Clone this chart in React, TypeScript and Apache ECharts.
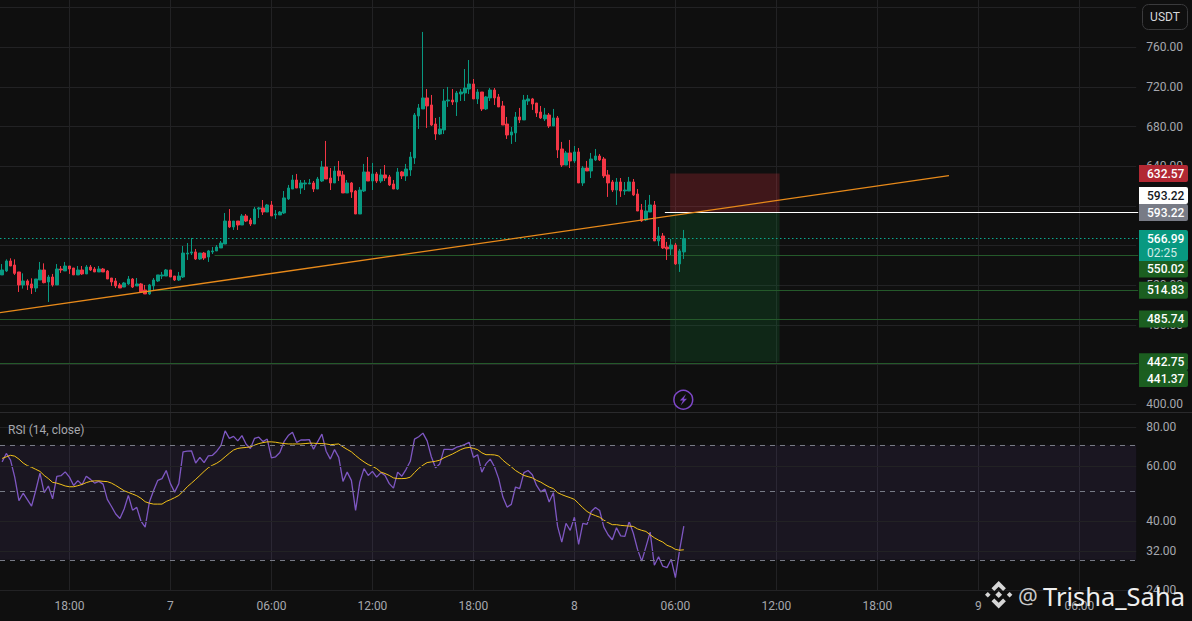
import React, { useEffect, useRef } from "react";
import * as echarts from "echarts";

const FONT = "Roboto, 'Noto Sans', sans-serif";

// 15-minute candles
const opens = [
  530.3,534.3,544.4,540.3,533.3,520.2,524.2,521.2,517.1,525.2,
  535.3,523.2,528.2,520.2,536.3,534.3,539.3,537.3,530.3,535.3,
  531.3,538.3,536.3,533.3,536.3,534.3,527.2,524.2,520.2,518.1,
  521.2,526.2,519.2,521.2,515.1,511.1,519.2,524.2,529.2,529.2,
  535.3,529.2,525.2,528.2,551.4,552.4,553.5,546.4,552.4,548.4,
  553.5,554.5,557.5,561.5,584.7,578.7,584.7,580.7,589.8,585.7,
  581.7,596.8,597.9,593.8,600.9,590.8,590.8,592.8,607.0,617.0,
  626.1,618.0,622.1,622.1,623.1,617.0,625.1,639.2,628.1,623.1,
  635.2,631.2,613.0,623.1,615.0,591.8,615.0,634.2,625.1,632.2,
  625.1,631.2,629.2,622.1,617.0,634.2,630.2,636.2,648.3,690.7,
  697.8,708.9,701.8,682.6,672.5,676.6,705.8,706.8,704.8,712.9,
  713.9,717.9,723.0,707.9,714.9,697.8,708.9,716.9,709.9,700.8,
  682.6,671.5,673.6,689.7,686.7,705.8,707.9,703.8,694.7,687.7,
  691.7,680.6,688.7,657.4,641.2,653.4,645.3,654.4,623.1,638.2,
  635.2,646.3,650.3,647.3,631.2,624.1,616.0,624.1,615.0,615.0,
  624.1,612.0,595.8,585.8,593.8,600.9,564.6,569.6,558.5,556.5,
  560.5,541.4,553.5,
];
const closes = [
  535.3,544.4,539.3,531.9,520.2,524.2,520.2,517.1,526.2,535.3,
  522.5,528.2,520.2,536.3,535.3,539.3,536.3,530.3,535.3,531.3,
  538.3,535.3,533.3,536.3,533.3,526.2,523.2,519.2,517.1,522.2,
  526.2,518.1,521.2,513.1,511.1,520.2,525.2,530.3,530.3,535.3,
  528.2,525.2,529.2,552.4,552.4,553.5,546.4,552.4,547.4,554.5,
  554.5,558.5,562.5,584.7,578.7,584.7,580.7,589.8,584.7,581.7,
  596.8,597.9,593.8,600.9,589.8,591.8,593.8,608.0,618.0,626.1,
  618.0,623.1,623.1,623.1,617.0,627.1,639.2,627.1,623.1,635.2,
  630.2,613.0,623.1,614.0,591.8,616.0,634.2,625.1,632.2,625.1,
  631.2,628.1,621.1,617.0,634.2,630.2,637.2,649.3,691.7,698.8,
  708.9,700.8,681.6,672.5,677.6,705.8,706.8,704.8,713.9,714.9,
  718.9,723.0,707.9,714.9,697.8,709.9,716.9,708.9,699.8,681.6,
  671.5,674.6,689.7,686.7,706.8,707.9,702.8,693.7,688.7,691.7,
  680.6,688.7,656.4,641.2,653.4,645.3,654.4,623.1,638.2,635.2,
  647.3,650.3,646.3,630.2,623.1,616.0,624.1,615.0,616.0,624.1,
  611.0,594.8,584.8,594.8,600.9,564.6,569.6,557.5,556.5,560.5,
  541.4,554.5,566.99,
];
const lows = [
  530.3,533.3,539.3,530.3,513.1,516.5,515.1,511.1,513.1,525.2,
  521.8,503.0,518.5,520.2,532.3,534.3,531.3,530.3,530.3,530.3,
  531.3,534.3,533.3,533.3,533.3,526.2,519.2,517.1,517.1,518.1,
  520.2,517.1,519.2,513.1,511.1,510.1,515.1,523.2,526.2,529.2,
  528.2,524.2,524.2,527.2,545.4,550.4,545.4,545.4,545.4,543.4,
  551.4,554.5,557.5,561.5,577.7,575.7,575.7,580.7,583.7,579.7,
  581.7,587.8,590.8,593.8,589.8,586.8,590.8,591.8,605.9,617.0,
  618.0,612.0,616.0,622.1,614.0,617.0,624.1,627.1,616.0,623.1,
  625.1,613.0,613.0,608.0,591.8,591.8,614.0,625.1,616.0,623.1,
  623.1,625.1,620.1,617.0,616.0,627.1,625.1,630.2,642.3,677.6,
  697.8,678.6,680.6,666.5,671.5,672.5,699.8,701.8,690.7,705.8,
  705.8,712.9,707.9,702.8,695.7,696.8,705.8,701.8,699.8,681.6,
  667.5,662.5,664.5,683.6,686.7,701.8,696.8,689.7,687.7,685.6,
  678.6,680.6,648.3,639.2,641.2,638.2,643.3,623.1,620.1,635.2,
  628.1,645.3,645.3,628.1,609.0,614.0,600.9,609.0,611.0,615.0,
  610.0,594.8,583.7,584.8,593.8,564.6,559.5,556.5,545.4,550.4,
  540.4,533.3,546.4,
];
const highs = [
  541.3,546.0,547.1,546.0,533.3,531.9,525.9,526.9,526.2,543.4,
  542.0,530.3,531.3,541.3,539.3,543.4,539.3,537.3,539.3,539.3,
  540.3,540.3,538.3,539.3,537.3,535.3,527.2,527.2,522.2,523.2,
  529.2,527.2,527.2,522.2,520.2,521.2,527.2,530.3,533.3,536.3,
  535.3,529.2,533.3,559.5,562.5,567.6,556.5,552.4,553.5,555.5,
  558.5,560.5,564.6,592.8,596.8,584.7,584.7,591.8,591.8,587.8,
  598.9,598.9,605.9,601.9,604.9,595.8,594.8,615.0,621.1,631.2,
  632.2,626.1,626.1,627.1,625.1,629.2,645.3,665.5,638.2,640.2,
  645.3,635.2,626.1,624.1,616.0,619.0,642.3,649.3,643.3,634.2,
  637.2,641.2,631.2,626.1,638.2,635.2,642.3,654.4,693.7,702.8,
  775.5,717.9,711.9,688.7,689.7,717.9,720.0,717.9,715.9,717.9,
  738.1,747.2,728.0,717.9,714.9,710.9,718.9,718.9,712.9,705.8,
  689.7,679.6,694.7,698.8,711.9,711.9,708.9,703.8,700.8,698.8,
  693.7,697.8,690.7,664.5,655.4,666.5,660.4,658.4,640.2,645.3,
  653.4,657.4,652.3,649.3,636.2,626.1,628.1,628.1,624.1,629.2,
  627.1,617.0,601.9,605.9,611.0,604.9,578.7,572.6,563.6,566.6,
  562.6,556.5,575.7,
];

const rsiValues = [
  61.9,65.9,62.7,55.3,46.5,49.1,46.8,44.6,50.1,57.0,49.3,51.8,47.1,55.6,55.9,57.5,55.3,52.0,53.9,52.3,
  55.7,54.4,52.9,53.6,52.5,46.9,44.5,42.1,40.7,43.7,48.3,43.3,44.2,39.9,38.2,46.0,50.1,54.0,54.7,58.1,
  52.7,49.5,52.7,66.7,67.0,67.2,61.4,64.0,61.6,64.7,65.0,67.0,69.8,77.9,73.7,74.8,72.3,75.2,70.5,68.4,
  73.7,74.3,71.9,73.3,63.8,64.3,66.4,71.9,75.2,77.1,71.5,72.8,72.8,73.0,68.0,71.9,76.0,67.0,63.2,67.8,
  64.0,53.6,57.4,54.0,43.2,53.3,58.9,56.0,57.7,55.3,57.2,56.0,52.7,51.0,57.4,55.7,58.6,62.2,73.3,74.6,
  76.6,72.3,64.3,59.3,60.9,67.9,67.9,67.8,69.0,69.6,70.5,71.5,64.0,65.3,57.4,61.1,63.2,59.7,54.7,47.7,
  44.3,45.2,51.4,50.8,57.2,58.1,56.3,52.0,49.6,50.6,46.0,49.3,38.4,34.2,39.3,37.3,41.1,33.6,39.3,39.0,
  42.9,44.2,43.2,38.2,36.1,34.8,38.0,35.8,35.7,39.8,36.5,32.4,29.7,33.0,36.8,28.8,30.7,28.6,28.3,30.1,
  26.3,32.2,38.5,
];
const rsiAverage = [
  63.5,64.3,65.0,64.6,63.2,61.4,60.2,59.5,58.6,57.7,56.0,54.7,53.2,52.9,52.4,51.8,51.5,51.5,51.9,52.4,
  53.1,53.6,53.8,53.8,53.6,53.5,52.9,52.0,51.0,50.0,49.4,48.8,48.2,47.3,46.1,45.6,45.3,45.3,45.3,46.2,
  46.8,47.5,48.3,49.8,51.5,52.9,54.4,56.0,57.7,59.3,60.4,61.3,62.6,64.3,66.0,67.6,68.4,68.7,68.9,69.2,
  70.1,70.9,71.4,71.8,71.8,71.6,71.2,70.9,70.7,70.7,70.7,70.7,70.9,71.1,71.1,70.9,70.9,70.7,70.3,70.5,
  70.7,69.2,67.9,66.7,64.9,63.3,61.9,60.7,59.9,58.9,57.4,56.8,56.0,55.0,54.7,54.7,54.8,55.3,57.2,59.0,
  60.4,61.6,61.9,62.2,62.7,63.8,64.7,65.6,66.7,67.8,68.6,68.9,68.4,67.8,66.2,65.3,65.3,65.2,64.7,62.7,
  61.1,59.7,58.1,57.0,56.0,55.5,55.0,54.0,53.3,52.3,51.4,50.8,49.3,48.6,48.0,47.5,46.9,45.5,44.1,42.9,
  42.1,41.6,41.1,40.2,39.5,38.9,38.9,38.7,38.6,38.5,38.4,37.7,37.3,37.0,36.1,35.3,34.7,34.2,33.4,33.0,
  32.4,32.2,32.3,
];

const timeLabels = ["18:00", "7", "06:00", "12:00", "18:00", "8", "06:00", "12:00", "18:00", "9", "06:00"];
const firstLabelBand = 16;
const bandsPerLabel = 24;
const bandCount = 270;

const rsiGridTicks = [80, 60, 40, 32, 24];
const rsiBandTicks = [70, 50, 30];
const rsiBandUpper = 70;
const rsiBandLower = 30;

// horizontal levels: price and the candle they start from
const levelPrices = [566.99, 550.02, 514.83, 485.74, 441.37, 593.22];
const levelStarts = [0, 51, 36, 0, 0, 158];

// position tool
const toolStart = 159;
const toolEnd = 185;
const toolEntry = 593.22;
const toolStop = 632.57;
const toolTarget = 442.75;

// trend line
const trendBands = [0, 225];
const trendPrices = [492.5, 630.5];

// price tags on the axis
const tagPrices = [485.74, 514.83, 441.37, 442.75, 550.02, 566.99, 593.22, 593.22, 632.57];
const tagTexts = ["485.74", "514.83", "441.37", "442.75", "550.02", "566.99", "593.22", "593.22", "632.57"];
const tagNudges = [0, 0, 15.5, 0, 13.5, 0, -17, 0, 0];
const tagFills = ["#1b5e20", "#1b5e20", "#1b5e20", "#1b5e20", "#1b5e20", "#089981", "#ffffff", "#787b86", "#b22833"];
const countdownText = "02:25";

const GRID = "#222224";
const LABEL = "#a6a8ae";
const categories = Array.from({ length: bandCount }, (_, i) => String(i));
const labelBands = timeLabels.map((_, i) => firstLabelBand + i * bandsPerLabel);
const candles = opens.map((o, i) => [o, closes[i], lows[i], highs[i]]);

const levelStyle = (i: number) => {
  if (i === 0) return { stroke: "#0aa88e", lineWidth: 1, lineDash: [1.5, 2.5] };
  if (i === 5) return { stroke: "#ffffff", lineWidth: 1 };
  return { stroke: "#24592a", lineWidth: 1 };
};

export default function App() {
  const ref = useRef<HTMLDivElement>(null);

  useEffect(() => {
    if (!ref.current) return;
    const chart = echarts.init(ref.current, undefined, { renderer: "svg" });

    const vertical = (top: number, bottom: number) => (_: any, api: any) => {
      const x = Math.round(api.coord([api.value(0), api.value(1)])[0]) + 0.5;
      return {
        type: "line",
        silent: true,
        shape: { x1: x, y1: top, x2: x, y2: bottom },
        style: { stroke: GRID, lineWidth: 1 },
      };
    };

    const option: any = {
      animation: false,
      backgroundColor: "#0f0f0f",
      textStyle: { fontFamily: FONT },
      grid: [
        { left: 0, width: 1136.2, top: 7.66, height: 396.4 },
        { left: 0, width: 1136.2, top: 413, height: 178 },
      ],
      xAxis: [
        {
          type: "category",
          gridIndex: 0,
          data: categories,
          axisLine: { show: false },
          axisTick: { show: false },
          axisLabel: { show: false },
          splitLine: { show: false },
        },
        {
          type: "category",
          gridIndex: 1,
          data: categories,
          axisLine: { show: false },
          axisTick: { show: false },
          splitLine: { show: false },
          axisLabel: {
            color: LABEL,
            fontFamily: FONT,
            fontSize: 12,
            margin: 9,
            interval: (i: number) => labelBands.includes(i),
            formatter: (_: string, i: number) => timeLabels[labelBands.indexOf(i)] ?? "",
          },
        },
      ],
      yAxis: [
        {
          type: "value",
          gridIndex: 0,
          position: "right",
          min: 400,
          max: 800,
          interval: 40,
          axisLine: { show: false },
          axisTick: { show: false },
          splitLine: { show: true, lineStyle: { color: GRID, width: 1 } },
          axisLabel: {
            color: LABEL,
            fontFamily: FONT,
            fontSize: 12,
            margin: 10,
            formatter: (v: number) => (v === 800 ? "" : v.toFixed(2)),
          },
        },
        {
          type: "log",
          gridIndex: 1,
          logBase: 10,
          position: "right",
          min: 23.81,
          max: 88.9,
          axisLine: { show: false },
          axisTick: { show: false },
          axisLabel: { show: false },
          splitLine: { show: false },
        },
      ],
      series: [
        {
          type: "custom",
          name: "grid top",
          xAxisIndex: 0,
          yAxisIndex: 0,
          z: 0,
          silent: true,
          encode: { x: 0, y: 1 },
          data: labelBands.map((b) => [b, 600]),
          renderItem: vertical(0, 412),
        },
        {
          type: "custom",
          name: "grid bottom",
          xAxisIndex: 1,
          yAxisIndex: 1,
          z: 0,
          silent: true,
          encode: { x: 0, y: 1 },
          data: labelBands.map((b) => [b, 40]),
          renderItem: vertical(413, 591),
        },
        {
          type: "custom",
          name: "position",
          xAxisIndex: 0,
          yAxisIndex: 0,
          z: 1,
          silent: true,
          encode: { x: 0, y: 1 },
          data: [
            [toolStart, toolStop, toolEnd, toolEntry],
            [toolStart, toolEntry, toolEnd, toolTarget],
          ],
          renderItem: (p: any, api: any) => {
            const a = api.coord([api.value(0), api.value(1)]);
            const b = api.coord([api.value(2), api.value(3)]);
            const shift = api.size([1, 0])[0] / 4;
            return {
              type: "rect",
              shape: { x: a[0] - shift, y: a[1], width: b[0] - a[0], height: b[1] - a[1] },
              style: { fill: p.dataIndex === 0 ? "rgba(242,54,69,0.22)" : "rgba(20,129,56,0.22)" },
            };
          },
        },
        {
          type: "custom",
          name: "levels",
          xAxisIndex: 0,
          yAxisIndex: 0,
          z: 1,
          silent: true,
          encode: { x: 0, y: 1 },
          data: levelPrices.map((p, i) => [levelStarts[i], p]),
          renderItem: (p: any, api: any) => {
            const c = api.coord([api.value(0), api.value(1)]);
            const half = api.size([1, 0])[0] / 2;
            const y = Math.floor(c[1]) + 0.5;
            return {
              type: "line",
              shape: { x1: c[0] - half, y1: y, x2: p.coordSys.x + p.coordSys.width + 2, y2: y },
              style: levelStyle(p.dataIndex),
            };
          },
        },
        {
          type: "candlestick",
          name: "candles",
          xAxisIndex: 0,
          yAxisIndex: 0,
          z: 3,
          barWidth: 3,
          data: candles,
          itemStyle: {
            color: "#089981",
            color0: "#f23645",
            borderColor: "#089981",
            borderColor0: "#f23645",
            borderWidth: 1,
          },
        },
        {
          type: "custom",
          name: "trend",
          xAxisIndex: 0,
          yAxisIndex: 0,
          z: 4,
          silent: true,
          encode: { x: 0, y: 1 },
          data: [[trendBands[0], trendPrices[0], trendBands[1], trendPrices[1]]],
          renderItem: (_: any, api: any) => {
            const a = api.coord([api.value(0), api.value(1)]);
            const b = api.coord([api.value(2), api.value(3)]);
            const half = api.size([1, 0])[0] / 2;
            const slope = (b[1] - a[1]) / (b[0] - a[0]);
            return {
              type: "line",
              shape: { x1: a[0] - half, y1: a[1] - slope * half, x2: b[0], y2: b[1] },
              style: { stroke: "#e88a1a", lineWidth: 1.3 },
            };
          },
        },
        {
          type: "line",
          name: "RSI",
          xAxisIndex: 1,
          yAxisIndex: 1,
          z: 3,
          data: rsiValues,
          showSymbol: false,
          silent: true,
          lineStyle: { color: "#7e57c2", width: 1.3 },
          markArea: {
            silent: true,
            itemStyle: { color: "rgba(126,87,194,0.1)" },
            data: [[{ yAxis: rsiBandUpper }, { yAxis: rsiBandLower }]],
          },
          markLine: {
            silent: true,
            symbol: "none",
            animation: false,
            data: [
              ...rsiGridTicks.map((v) => ({
                yAxis: v,
                name: v.toFixed(2),
                lineStyle: { color: GRID, width: 1, type: "solid" },
                label: {
                  show: true,
                  position: "end",
                  distance: 10,
                  formatter: "{b}",
                  color: LABEL,
                  fontFamily: FONT,
                  fontSize: 12,
                },
              })),
              ...rsiBandTicks.map((v) => ({
                yAxis: v,
                name: String(v),
                lineStyle: { color: "#787b86", width: 1, type: [5, 5] },
                label: { show: false },
              })),
            ],
          },
        },
        {
          type: "line",
          name: "RSI average",
          xAxisIndex: 1,
          yAxisIndex: 1,
          z: 4,
          data: rsiAverage,
          showSymbol: false,
          silent: true,
          lineStyle: { color: "#f2c21a", width: 1 },
        },
        {
          type: "custom",
          name: "tags",
          xAxisIndex: 0,
          yAxisIndex: 0,
          z: 20,
          silent: true,
          encode: { x: 0, y: 1 },
          data: tagPrices.map((p) => [0, p]),
          renderItem: (p: any, api: any) => {
            const i = p.dataIndex;
            const y = api.coord([0, api.value(1)])[1] + tagNudges[i];
            const isCount = tagTexts[i] === "566.99";
            const dark = tagFills[i] === "#ffffff";
            const children: any[] = [
              {
                type: "rect",
                shape: { x: 1139, y: y - 8.5, width: 49, height: isCount ? 31 : 17, r: [0, 2, 2, 0] },
                style: { fill: tagFills[i] },
              },
              {
                type: "text",
                style: {
                  x: 1147,
                  y,
                  text: tagTexts[i],
                  fill: dark ? "#131722" : "#ffffff",
                  font: `500 12px ${FONT}`,
                  verticalAlign: "middle",
                },
              },
            ];
            if (isCount) {
              children.push({
                type: "text",
                style: {
                  x: 1147,
                  y: y + 14,
                  text: countdownText,
                  fill: "#d3ece7",
                  font: `400 12px ${FONT}`,
                  verticalAlign: "middle",
                },
              });
            }
            return { type: "group", children };
          },
        },
      ],
      graphic: [
        { type: "line", silent: true, z: 5, shape: { x1: 0, y1: 412.5, x2: 1192, y2: 412.5 }, style: { stroke: "#2a2a2c", lineWidth: 1 } },
        {
          type: "rect",
          silent: true,
          z: 30,
          shape: { x: 1142.5, y: 4.5, width: 45, height: 25, r: 6 },
          style: { fill: "#0f0f0f", stroke: "#3a3a3c", lineWidth: 1 },
        },
        {
          type: "text",
          silent: true,
          z: 31,
          x: 1165,
          y: 17,
          style: { text: "USDT", fill: "#d6d7da", font: `400 12px ${FONT}`, align: "center", verticalAlign: "middle" },
        },
        {
          type: "text",
          silent: true,
          z: 31,
          x: 8,
          y: 429.5,
          style: { text: "RSI (14, close)", fill: LABEL, font: `400 12px ${FONT}`, verticalAlign: "middle" },
        },
        {
          type: "circle",
          silent: true,
          z: 31,
          shape: { cx: 683.3, cy: 399.8, r: 9.4 },
          style: { fill: "#0f0f0f", stroke: "#7e47c8", lineWidth: 1.5 },
        },
        {
          type: "polygon",
          silent: true,
          z: 32,
          shape: { points: [[686, 394], [679.8, 400.6], [683, 400.6], [680.6, 405.6], [687, 398.8], [683.8, 398.8]] },
          style: { fill: "#7e47c8" },
        },
        {
          type: "group",
          silent: true,
          z: 40,
          x: 998.7,
          y: 594.7,
          children: [
            { type: "polygon", z: 40, shape: { points: [[0, -13.7], [7.2, -6.5], [4.4, -3.7], [0, -8], [-4.4, -3.7], [-7.2, -6.5]] }, style: { fill: "#d6d6d6" } },
            { type: "polygon", z: 40, shape: { points: [[0, 13.7], [7.2, 6.5], [4.4, 3.7], [0, 8], [-4.4, 3.7], [-7.2, 6.5]] }, style: { fill: "#d6d6d6" } },
            { type: "polygon", z: 40, shape: { points: [[-13.7, 0], [-10.9, -2.8], [-8.1, 0], [-10.9, 2.8]] }, style: { fill: "#d6d6d6" } },
            { type: "polygon", z: 40, shape: { points: [[13.7, 0], [10.9, -2.8], [8.1, 0], [10.9, 2.8]] }, style: { fill: "#d6d6d6" } },
            { type: "polygon", z: 40, shape: { points: [[0, -3.4], [3.4, 0], [0, 3.4], [-3.4, 0]] }, style: { fill: "#d6d6d6" } },
          ],
        },
        {
          type: "text",
          silent: true,
          z: 40,
          x: 1018,
          y: 595,
          style: { text: "@", fill: "#c9c9c9", font: "400 22px 'Noto Sans', sans-serif", verticalAlign: "middle" },
        },
        {
          type: "text",
          silent: true,
          z: 40,
          x: 1043,
          y: 596,
          style: { text: "Trisha_Saha", fill: "#efefef", font: "400 25.5px 'Noto Sans', sans-serif", verticalAlign: "middle" },
        },
      ],
    };

    chart.setOption(option);
    return () => chart.dispose();
  }, []);

  return <div ref={ref} style={{ position: "fixed", left: 0, top: 0, width: 1192, height: 621 }} />;
}
